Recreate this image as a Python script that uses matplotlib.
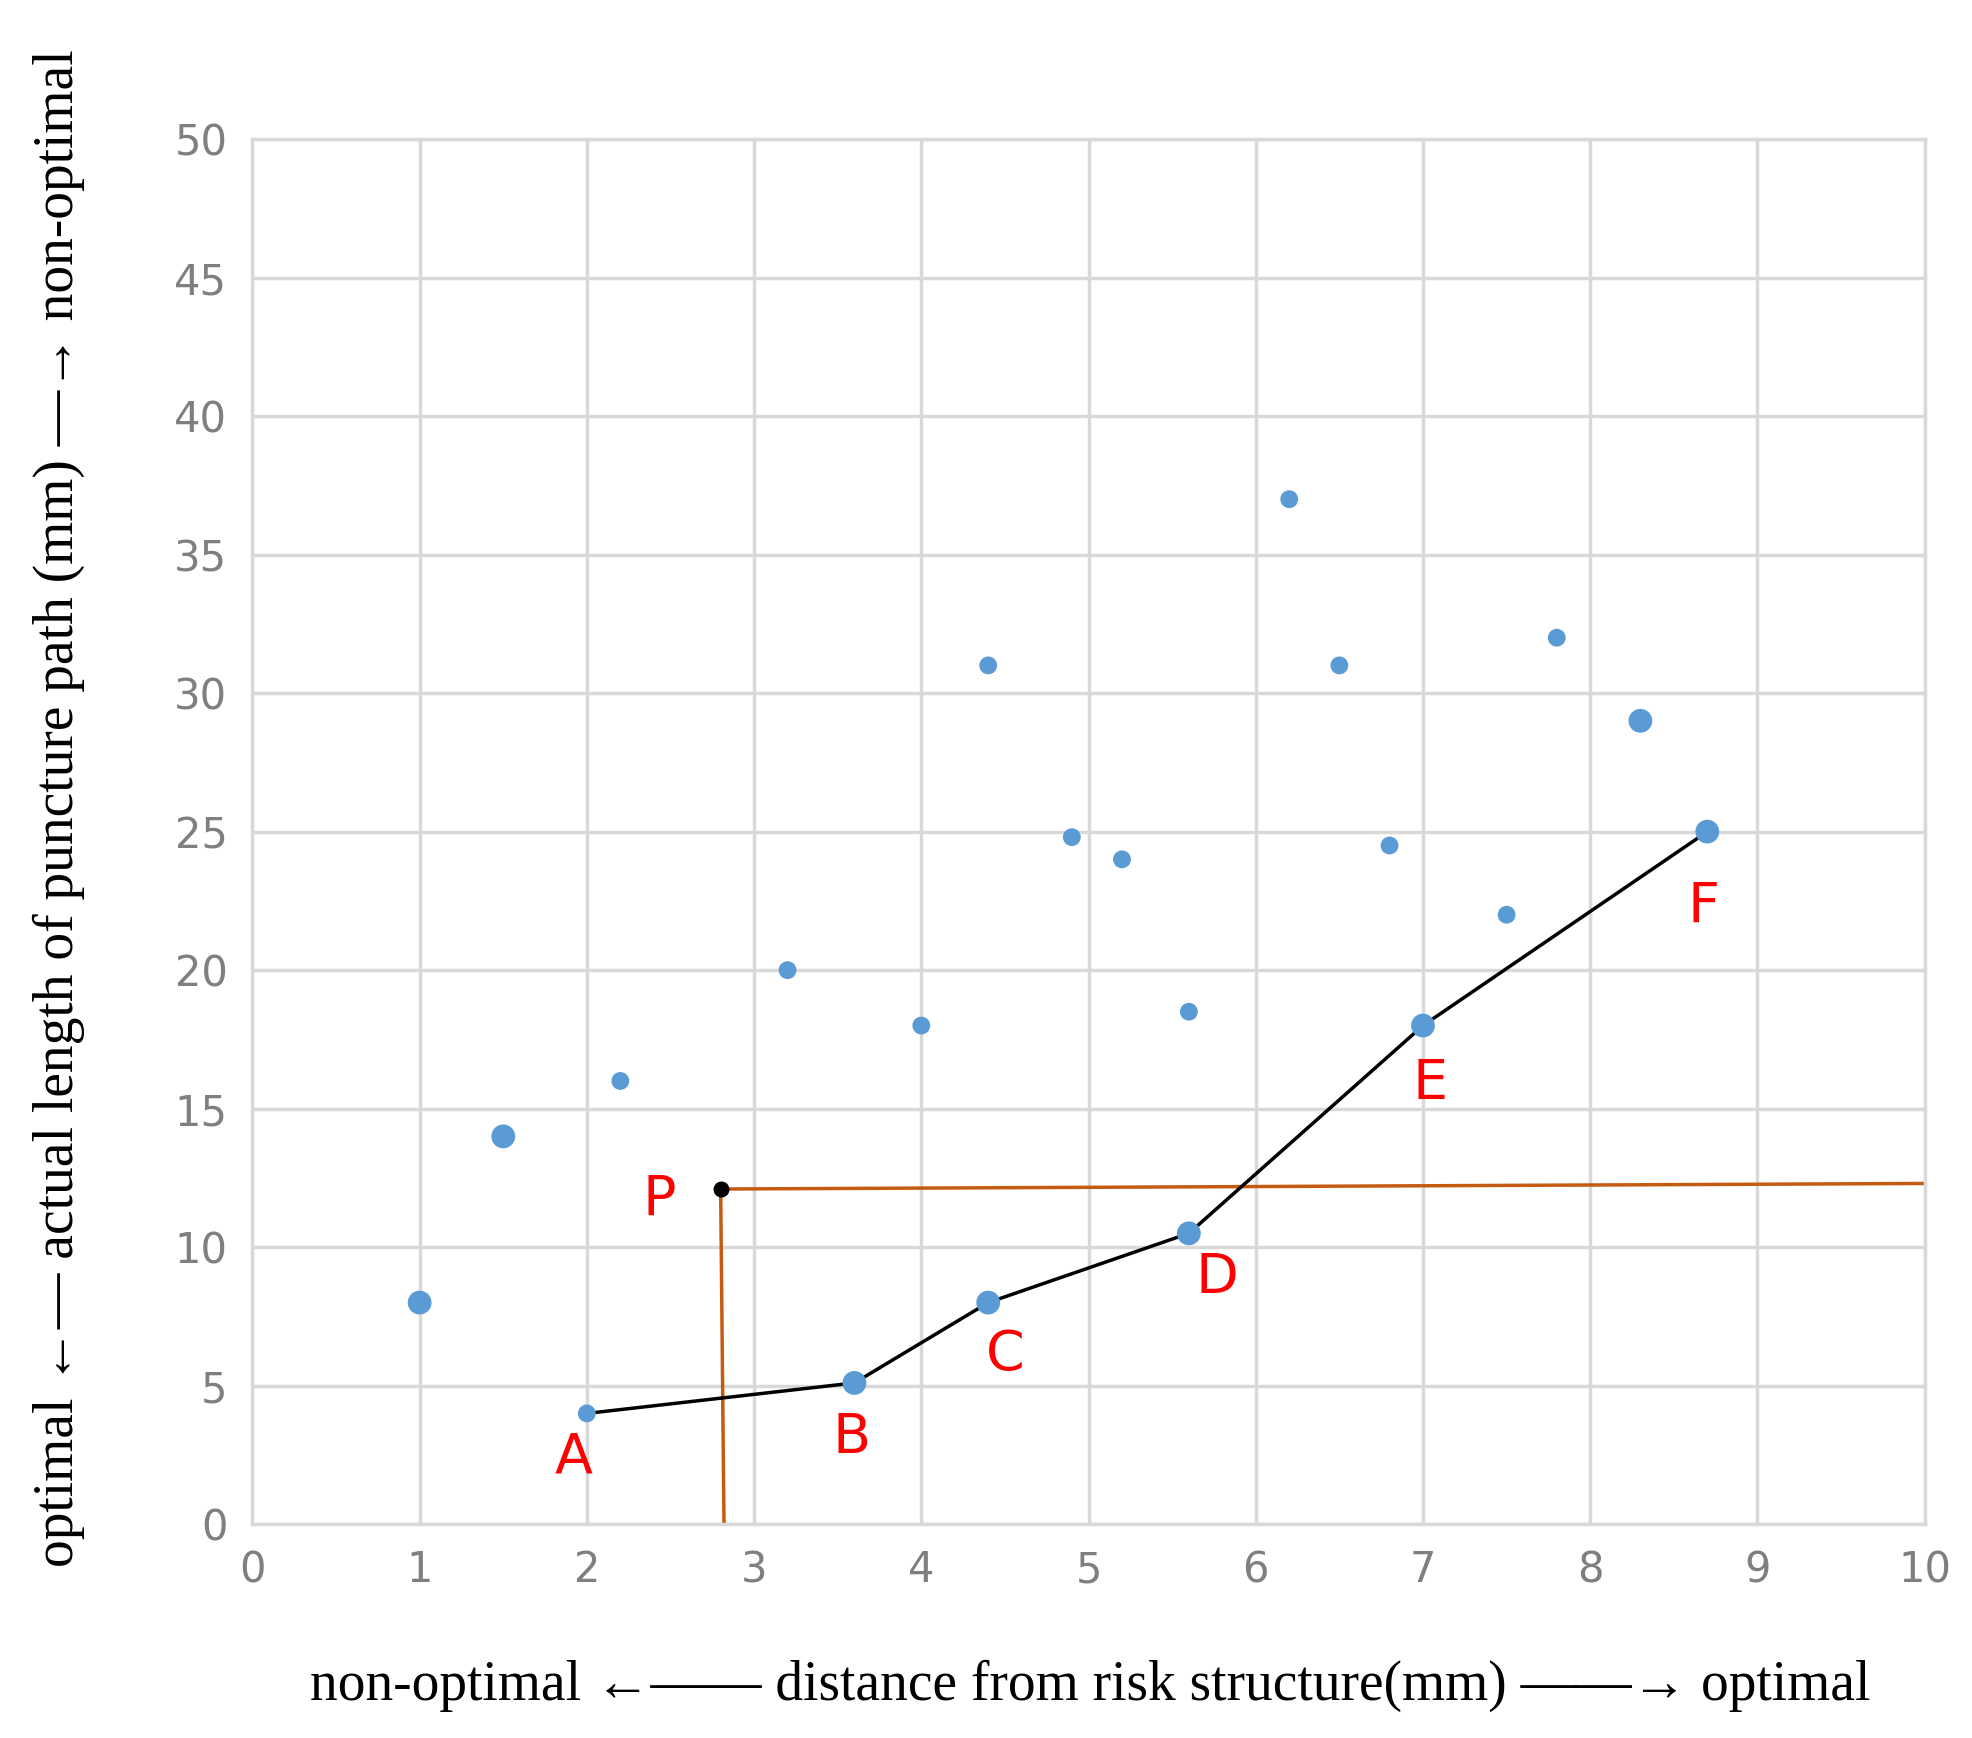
import matplotlib
matplotlib.use("Agg")
import matplotlib.pyplot as plt

# scatter data
xs = [1, 1.5, 2.2, 2, 3.2, 3.6, 4, 4.4, 4.4, 4.9, 5.2, 5.6, 5.6, 6.2, 6.5, 6.8, 7, 7.5, 7.8, 8.3, 8.7]
ys = [8, 14, 16, 4, 20, 5.1, 18, 31, 8, 24.8, 24, 18.5, 10.5, 37, 31, 24.5, 18, 22, 32, 29, 25]
big = [1, 1, 0, 0, 0, 1, 0, 0, 1, 0, 0, 0, 1, 0, 0, 0, 1, 0, 0, 1, 1]

# front line A-F
front_x = [2, 3.6, 4.4, 5.6, 7, 8.7]
front_y = [4, 5.1, 8, 10.5, 18, 25]
front_names = ["A", "B", "C", "D", "E", "F"]
name_x = [1.92, 3.58, 4.5, 5.77, 7.04, 8.68]
name_y = [2.4, 3.1, 6.1, 8.9, 15.9, 22.3]

# point P
px, py = 2.8, 12.1

fig = plt.figure(figsize=(19.72, 17.38), dpi=100)
ax = fig.add_axes([0.128, 0.123, 0.848, 0.797])

ax.set_xlim(0, 10)
ax.set_ylim(0, 50)
ax.set_xticks(range(0, 11))
ax.set_yticks(range(0, 51, 5))
ax.grid(True, color="#d9d9d9", linewidth=2.5)
ax.set_axisbelow(True)
for s in ax.spines.values():
    s.set_color("#d9d9d9")
    s.set_linewidth(2.5)
ax.tick_params(length=0, labelsize=30, labelcolor="#7f7f7f", pad=18)

ax.plot([px, 10], [py, 12.3], color="#c55a11", lw=2.5, zorder=2)
ax.plot([px, 2.82], [py, 0], color="#c55a11", lw=2.5, zorder=2)

ax.plot(front_x, front_y, color="black", lw=2.5, zorder=3)
sizes = [260 if b else 140 for b in big]
ax.scatter(xs, ys, s=sizes, color="#5b9bd5", zorder=4)
ax.scatter([px], [py], s=110, color="black", zorder=5)

for n, x, y in zip(front_names, name_x, name_y):
    ax.text(x, y, n, color="#ff0000", fontsize=40, ha="center", va="center")
ax.text(2.43, 11.7, "P", color="#ff0000", fontsize=40, ha="center", va="center")

fig.text(0.553, 0.03, "non-optimal \u2190\u2014\u2014 distance from risk structure(mm) \u2014\u2014\u2192 optimal",
         fontsize=40, family="Liberation Serif", ha="center", va="center")
fig.text(0.03, 0.535, "optimal \u2190\u2014 actual length of puncture path (mm) \u2014\u2192 non-optimal",
         fontsize=40, family="Liberation Serif", ha="center", va="center", rotation=90)

fig.savefig("out.png", dpi=100)
